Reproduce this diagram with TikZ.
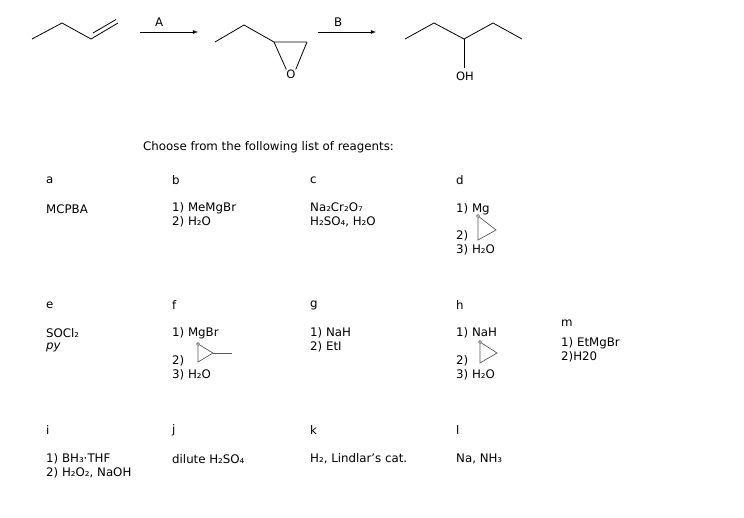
\documentclass[tikz,border=0pt]{standalone}
\usepackage{fontspec}
\setmainfont{DejaVu Sans}
\begin{document}
\begin{tikzpicture}[x=1pt,y=-1pt,
  t/.style={anchor=west,inner sep=0pt,font=\fontsize{11.8}{13.5}\selectfont,align=left},
  bond/.style={line width=0.8pt},
  sbond/.style={line width=0.7pt,gray!70!black},
  rxn/.style={line width=0.8pt,-latex}]
\useasboundingbox (0,0) rectangle (744,517);
% starting alkene
\draw[bond] (32,39) -- (62,23) -- (91,39) -- (118,23);
\draw[bond] (93,33) -- (116,19.5);
% arrow A
\coordinate (a1) at (140,32); \coordinate (a2) at (198,32);
\draw[rxn] (a1) -- (a2);
\node[t] (A) at (155,22) {A};
% epoxide
\node[inner sep=0pt,font=\fontsize{11.5}{12}\selectfont] (O) at (291,74) {O};
\draw[bond] (215,42) -- (244,25) -- (274,42) -- (307,42);
\draw[bond] (274,42) -- (O.north west);
\draw[bond] (307,42) -- (O.north east);
% arrow B
\coordinate (b1) at (318,32); \coordinate (b2) at (376,32);
\draw[rxn] (b1) -- (b2);
\node[t] (B) at (334,22) {B};
% pentanol
\node[inner sep=0pt,font=\fontsize{11.5}{12}\selectfont] (OH) at (465,76) {OH};
\draw[bond] (405,39) -- (434,23) -- (464,39) -- (493,23) -- (522,39);
\draw[bond] (464,39) -- (464,68);

\node[t] (ch) at (143,147) {Choose from the following list of reagents:};

% row 1
\node[t] (la) at (46,180) {a};
\node[t] (ra) at (46,209) {MCPBA};
\node[t] (lb) at (172,180) {b};
\node[t] (rb) at (172,215) {1) MeMgBr\\2) H₂O};
\node[t] (lc) at (310,180) {c};
\node[t] (rc) at (310,215) {Na₂Cr₂O₇\\H₂SO₄, H₂O};
\node[t] (ld) at (456,180) {d};
\node[t] (rd1) at (456,209) {1) Mg};
\node[t] (rd2) at (456,236) {2)};
\node[t] (rd3) at (456,250) {3) H₂O};
\node[draw,circle,inner sep=0pt,minimum size=3pt,sbond] (od) at (478,216) {};
\draw[sbond] (od) -- (478,240) -- (496,230) -- (od);

% row 2
\node[t] (le) at (46,305) {e};
\node[t] (re1) at (46,333) {SOCl₂};
\node[t] (re2) at (46,347) {\itshape py};
\node[t] (lf) at (172,305) {f};
\node[t] (rf1) at (172,333) {1) MgBr};
\node[t] (rf2) at (172,361) {2)};
\node[t] (rf3) at (172,375) {3) H₂O};
\node[draw,circle,inner sep=0pt,minimum size=3pt,sbond] (of) at (198,344) {};
\draw[sbond] (of) -- (198,362) -- (213,353) -- (of);
\draw[sbond] (213,353) -- (232,353);
\node[t] (lg) at (310,305) {g};
\node[t] (rg) at (310,340) {1) NaH\\2) EtI};
\node[t] (lh) at (456,305) {h};
\node[t] (rh1) at (456,333) {1) NaH};
\node[t] (rh2) at (456,361) {2)};
\node[t] (rh3) at (456,375) {3) H₂O};
\node[draw,circle,inner sep=0pt,minimum size=3pt,sbond] (oh) at (480,342) {};
\draw[sbond] (oh) -- (480,363) -- (497,353) -- (oh);
\node[t] (lm) at (561,323) {m};
\node[t] (rm) at (561,350) {1) EtMgBr\\2)H20};

% row 3
\node[t] (li) at (46,430) {i};
\node[t] (ri) at (46,466) {1) BH₃·THF\\2) H₂O₂, NaOH};
\node[t] (lj) at (172,430) {j};
\node[t] (rj) at (172,459) {dilute H₂SO₄};
\node[t] (lk) at (310,430) {k};
\node[t] (rk) at (310,459) {H₂, Lindlar's cat.};
\node[t] (ll) at (456,430) {l};
\node[t] (rl) at (456,459) {Na, NH₃};
\end{tikzpicture}
\end{document}
